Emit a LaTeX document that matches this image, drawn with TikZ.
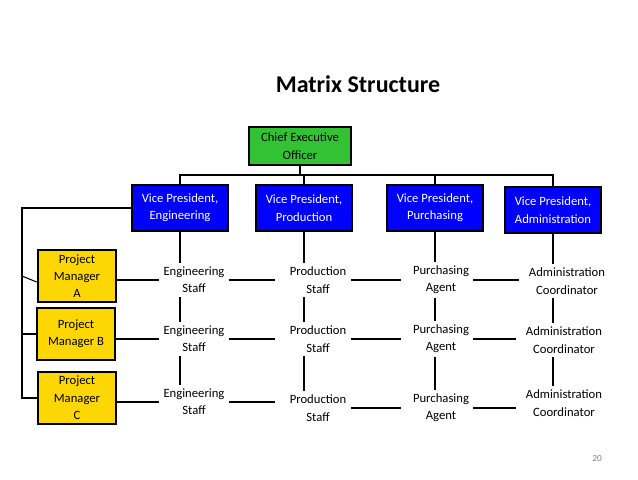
\documentclass[tikz,border=0pt]{standalone}
\usepackage{fontspec}
\setmainfont{Carlito}
\begin{document}
\begin{tikzpicture}[x=0.75pt,y=0.75pt,yscale=-1,
  box/.style={draw=black,line width=1.6pt,align=center,inner sep=0pt,font=\fontsize{9.5}{13}\selectfont},
  vp/.style={box,fill=blue,text=white,minimum width=72pt,minimum height=34pt},
  pm/.style={box,fill=yellow!75!orange,minimum width=59pt,minimum height=39pt},
  staff/.style={align=center,inner sep=3pt,font=\fontsize{9.5}{13}\selectfont},
  ln/.style={line width=0.8pt}]
\useasboundingbox (0,0) rectangle (638,479);
\node[font=\bfseries\fontsize{18}{20}\selectfont] at (358,84) {Matrix Structure};
\node[text=gray,font=\fontsize{7}{8}\selectfont] at (597,458) {20};
\node[box,fill=green!70!black!80!white,minimum width=76pt,minimum height=28pt] (ceo) at (300,146) {Chief Executive\\Officer};
\node[vp] (v1) at (180,208) {Vice President,\\Engineering};
\node[vp] (v2) at (304,208) {Vice President,\\Production};
\node[vp] (v3) at (435,208) {Vice President,\\Purchasing};
\node[vp] (v4) at (553,210) {Vice President,\\Administration};
\node[pm] (pa) at (77,276) {Project\\Manager\\A};
\node[pm] (pb) at (76,334) {Project\\Manager B};
\node[pm] (pc) at (77,398) {Project\\Manager\\C};
% staff grid
\node[staff] (e1) at (194,280) {Engineering\\Staff};
\node[staff] (e2) at (194,339) {Engineering\\Staff};
\node[staff] (e3) at (194,402) {Engineering\\Staff};
\node[staff] (p1) at (318,280) {Production\\Staff};
\node[staff] (p2) at (318,339) {Production\\Staff};
\node[staff] (p3) at (318,408) {Production\\Staff};
\node[staff] (u1) at (441,280) {Purchasing\\Agent};
\node[staff] (u2) at (441,339) {Purchasing\\Agent};
\node[staff] (u3) at (441,408) {Purchasing\\Agent};
\node[staff] (a1) at (567,281) {Administration\\Coordinator};
\node[staff] (a2) at (564,340) {Administration\\Coordinator};
\node[staff] (a3) at (564,403) {Administration\\Coordinator};
\coordinate (bus) at (0,175);
\coordinate (left) at (22,0);
% CEO to VPs
\draw[ln] (ceo.south) -- (ceo.south |- bus);
\draw[ln] (v1.north) |- (bus -| v4.north) -- (v4.north);
\draw[ln] (v2.north) -- (v2.north |- bus);
\draw[ln] (v3.north) -- (v3.north |- bus);
% VP1 to project managers
\draw[ln] (v1.west) -| (left |- pc.west) -- (pc.west);
\draw[ln] (left |- pa.east) -- (pa.west |- 0,282);
\draw[ln] (left |- pb.west) -- (pb.west);
% columns
\foreach \v/\a/\b/\c in {v1/e1/e2/e3,v2/p1/p2/p3,v3/u1/u2/u3,v4/a1/a2/a3}{
  \draw[ln] (\v.south) -- (\v.south |- \a.north);
  \draw[ln] (\v.south |- \a.south) -- (\v.south |- \b.north);
  \draw[ln] (\v.south |- \b.south) -- (\v.south |- \c.north);
}
% rows
\foreach \p/\e/\q/\u/\a in {pa/e1/p1/u1/a1,pb/e2/p2/u2/a2,pc/e3/p3/u3/a3}{
  \draw[ln] (\p.east |- \e.west) -- (\e.west);
  \draw[ln,shorten >=8pt] (\e.east) -- (\q.west |- \e.east);
  \draw[ln,shorten >=6pt] (\q.east) -- (\u.west |- \q.east);
  \draw[ln,shorten >=4pt] (\u.east) -- (\a.west |- \u.east);
}
\end{tikzpicture}
\end{document}
